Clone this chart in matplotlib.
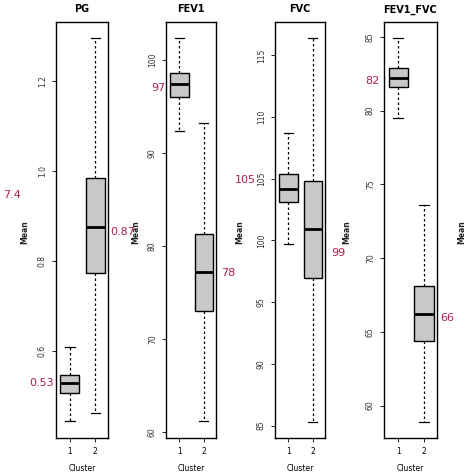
import matplotlib
matplotlib.use("Agg")
import matplotlib.pyplot as plt

# Variables y estadísticas de cada cluster (whislo, q1, med, q3, whishi)
variables = ['PG', 'FEV1', 'FVC', 'FEV1_FVC']
cluster1 = [
    [0.444, 0.507, 0.529, 0.547, 0.609],
    [92.4, 96.0, 97.4, 98.6, 102.4],
    [99.7, 103.1, 104.2, 105.4, 108.7],
    [79.5, 81.6, 82.2, 82.9, 84.9],
]
cluster2 = [
    [0.462, 0.773, 0.876, 0.984, 1.296],
    [61.2, 73.0, 77.2, 81.3, 93.2],
    [85.3, 97.0, 100.9, 104.8, 116.4],
    [58.9, 64.4, 66.2, 68.1, 73.6],
]
limites = [(0.407, 1.331), (59.4, 104.1), (84.0, 117.7), (57.8, 86.0)]
ticks = [[0.6, 0.8, 1.0, 1.2], [60, 70, 80, 90, 100],
         [85, 90, 95, 100, 105, 110, 115], [60, 65, 70, 75, 80, 85]]
tick_fmt = ['{:.1f}', '{:.0f}', '{:.0f}', '{:.0f}']

# Etiquetas rojas (texto, x, y en píxeles)
etiquetas = [('7.4', 12, 195), ('0.87', 123, 232), ('0.53', 42, 383),
             ('97', 158, 88), ('78', 228, 273), ('105', 245, 180),
             ('99', 338, 253), ('82', 372, 81), ('66', 447, 318)]
means_x = [25, 136, 240, 347, 462]

W = H = 474
fig = plt.figure(figsize=(4.74, 4.74), dpi=100)
paneles = [(56, 108), (166, 216), (275, 325), (384, 437)]
top, bot = 22, 438

for i, (x0, x1) in enumerate(paneles):
    ax = fig.add_axes([x0 / W, 1 - bot / H, (x1 - x0) / W, (bot - top) / H])
    stats = []
    for s in (cluster1[i], cluster2[i]):
        stats.append(dict(whislo=s[0], q1=s[1], med=s[2], q3=s[3], whishi=s[4], fliers=[]))
    ax.bxp(stats, positions=[1, 2], widths=0.75, patch_artist=True, showfliers=False,
           boxprops=dict(facecolor='#c8c8c8', edgecolor='black', linewidth=1),
           medianprops=dict(color='black', linewidth=2),
           whiskerprops=dict(linestyle=(0, (2, 2)), linewidth=0.9),
           capprops=dict(linewidth=0.9))
    ax.set_xlim(0.45, 2.5)
    ax.set_ylim(*limites[i])
    ax.set_yticks(ticks[i])
    ax.set_yticklabels([tick_fmt[i].format(t) for t in ticks[i]], rotation=90,
                       va='center', fontsize=5.5, color='#333333')
    ax.set_xticks([1, 2])
    ax.set_xticklabels(['1', '2'], fontsize=5.5)
    ax.tick_params(length=3, width=0.6)
    ax.set_title(variables[i], fontsize=7, fontweight='bold', pad=7)
    ax.set_xlabel('Cluster', fontsize=5.5, labelpad=6)
    for sp in ax.spines.values():
        sp.set_linewidth(1)

for x in means_x:
    fig.text(x / W, 1 - 232 / H, 'Mean', rotation=90, fontsize=5.5,
             fontweight='bold', ha='center', va='center', color='#222222')

for txt, x, y in etiquetas:
    fig.text(x / W, 1 - y / H, txt, fontsize=8, color='#b0204a',
             ha='center', va='center')

fig.savefig('out.png', dpi=100)
